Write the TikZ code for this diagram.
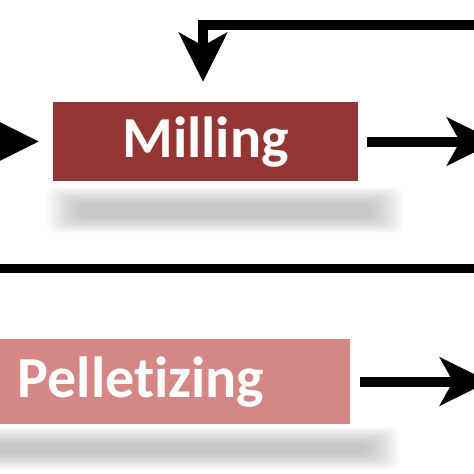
\documentclass[tikz,border=0pt]{standalone}
\usepackage{fontspec}
\setmainfont{Carlito}[Ligatures=NoCommon]
\usetikzlibrary{arrows.meta,positioning}
\definecolor{millred}{HTML}{943634}
\definecolor{pelletpink}{HTML}{D48785}
\tikzset{
  stepbox/.style={rectangle, inner sep=0pt, text=white, text height=37pt, text depth=6pt,
    font=\bfseries\fontsize{58}{60}\selectfont},
  flow/.style={line width=10pt, -{Stealth[length=49pt, width=48pt, inset=13pt]}},
  sep/.style={line width=9pt},
}
\begin{document}
\begin{tikzpicture}[x=1pt, y=-1pt]
\useasboundingbox (0,0) rectangle (474,474);
% soft shadows under the boxes
\foreach \k in {0,...,15}
  \fill[black, opacity=0.017, rounded corners=8pt] (46+\k*2.2, 187+\k*1.1) rectangle (404-\k*2.2, 233-\k*1.1);
\foreach \k in {0,...,15}
  \fill[black, opacity=0.017, rounded corners=8pt] (-40+\k*2.2, 427+\k*1.1) rectangle (400-\k*2.2, 470-\k*1.1);
% boxes
\node[stepbox, fill=millred, minimum width=305pt, minimum height=79pt] (mill) at (205.5,141.5) {Milling};
\node[stepbox, fill=pelletpink, minimum width=418pt, minimum height=85pt] (pellet) at (141,381.5) {Pelletizing};
% free ends
\coordinate (inL) at (-60,141.5);
\coordinate (outR) at (496,141.5);
\coordinate (fbR) at (490,25);
\coordinate (fbL) at (203,25);
\coordinate (sepL) at (-5,268.5);
\coordinate (sepR) at (480,268.5);
\coordinate (pelR) at (489,381.5);
% connectors
\draw[flow, shorten >=14pt] (inL) -- (mill.west);
\draw[flow, shorten <=9pt] (mill.east) -- (outR);
\draw[flow, shorten >=20pt] (fbR) -- (fbL) -- (fbL |- mill.north);
\draw[sep] (sepL) -- (sepR);
\draw[flow, shorten <=10pt] (pellet.east) -- (pelR);
\end{tikzpicture}
\end{document}
